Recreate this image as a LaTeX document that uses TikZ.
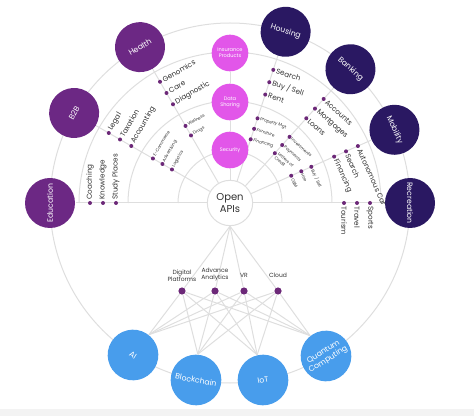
\documentclass[tikz,border=0pt]{standalone}
\usepackage{fontspec}
\setmainfont{Poppins}

\definecolor{lgray}{RGB}{222,222,222}
\definecolor{band}{RGB}{243,243,243}
\definecolor{lpurp}{RGB}{108,40,132}
\definecolor{dpurp}{RGB}{42,24,98}
\definecolor{pinkb}{RGB}{226,86,233}
\definecolor{bblue}{RGB}{72,157,236}
\definecolor{dotc}{RGB}{108,40,120}
\definecolor{txt}{RGB}{50,50,50}

\tikzset{every picture/.style={line width=0.75pt}}
\tikzset{
  ring/.style={color=lgray, line width=0.75pt},
  bubble/.style={circle, minimum size=37.5pt, inner sep=0pt, text=white, align=center, font=\fontsize{5.8}{6.6}\selectfont},
  pbubble/.style={circle, fill=pinkb, minimum size=27.5pt, inner sep=0pt, text=white, align=center, font=\fontsize{3.8}{4.6}\selectfont},
  hub/.style={circle, draw=lgray, fill=white, minimum size=34pt, inner sep=0pt, align=center, text=txt, font=\fontsize{7.5}{9}\selectfont},
  pdot/.style={circle, fill=dotc, minimum size=3pt, inner sep=0pt},
  bdot/.style={circle, fill=dotc, minimum size=5.4pt, inner sep=0pt},
  lbl/.style={anchor=west, inner sep=2.2pt, text=txt, font=\fontsize{5.4}{6}\selectfont},
  slbl/.style={anchor=west, inner sep=1.8pt, text=txt, align=left, font=\fontsize{3.2}{3.8}\selectfont},
  blbl/.style={align=center, inner sep=0pt, text=txt, font=\fontsize{4.5}{5.3}\selectfont}
}

\begin{document}
\begin{tikzpicture}[x=0.75pt,y=0.75pt,yscale=-1,xscale=1]
\path [use as bounding box] (0,0) rectangle (474,416);

%Shape: Rectangle [bottom band]
\fill [color=band] (0,409) rectangle (474,416);

\begin{scope}[shift={(230,203)},yscale=-1]
%Shape: Circle [outer ring]
\draw [ring] (0,0) circle [radius=180];
%Shape: Arcs [upper rings]
\foreach \r in {52,102,151}
  \draw [ring] (\r,0) arc [start angle=0, end angle=180, radius=\r];

% Hub
\node [hub] (open) at (0,0) {Open\\APIs};

% Sector bubbles
\foreach \n/\a/\t/\col in {edu/180/Education/lpurp, b2b/150/B2B/lpurp, hea/120/Health/lpurp,
    hou/72/Housing/dpurp, ban/48/Banking/dpurp, mob/24/Mobility/dpurp, rec/0/Recreation/dpurp}
  \node [bubble, fill=\col, rotate=\a-90] (\n) at (\a:180) {\t};

% Spokes
\foreach \n in {edu,b2b,hea,hou,ban,mob,rec}
  \draw [ring] (open) -- (\n);

% Centre column
\node [pbubble] (sec) at (90:53) {Security};
\node [pbubble] (dat) at (90:101) {Data\\Sharing};
\node [pbubble] (ins) at (90:150) {Insurance\\Products};
\draw [ring] (open) -- (sec) -- (dat) -- (ins);

% Outer items
\foreach \a/\r/\t [count=\i] in {
    180/140/Coaching, 180/127/Knowledge, 180/114/Study Places,
    150/140/Legal, 150/127/Taxation, 150/114/Accounting,
    120/140/Genomics, 120/127/Care, 120/114/Diagnostic,
    72/140/Search, 72/127/{Buy / Sell}, 72/114/Rent,
    48/140/Accounts, 48/127/Mortgages, 48/114/Loans,
    24/140/Autonomous Car, 24/127/Search, 24/114/Financing,
    0/140/Sports, 0/127/Travel, 0/114/Tourism}{
  \node [pdot] (o\i) at (\a:\r) {};
  \node [lbl, rotate=\a-90] (ol\i) at (o\i.center) {\t};
}

% Inner items
\foreach \a/\r/\t [count=\i] in {
    150/89/E-Commerce, 150/78/Advertising, 150/67/Logistics,
    120/89/Wellness, 120/78/Drugs,
    72/89/Property Mgt, 72/78/Furniture, 72/67/Financing,
    48/89/Investments, 48/78/Payments, 48/67/{Letters of\\Credit},
    24/89/{Buy / Sell}, 24/78/Hire, 24/67/O\&M}{
  \node [pdot] (i\i) at (\a:\r) {};
  \node [slbl, rotate=\a-90] (il\i) at (i\i.center) {\t};
}
\end{scope}

% Technology dots
\node [bdot] (dp) at (182,291) {};
\node [bdot] (aa) at (215,291) {};
\node [bdot] (vr) at (244,291) {};
\node [bdot] (cl) at (278,291) {};

% Technology bubbles
\node [bubble, fill=bblue, minimum size=38pt, rotate=-32] (ai) at (133,355) {AI};
\node [bubble, fill=bblue, minimum size=38pt, rotate=-11] (bc) at (196,380) {Blockchain};
\node [bubble, fill=bblue, minimum size=38pt, rotate=11] (iot) at (263,380) {IoT};
\node [bubble, fill=bblue, minimum size=38pt, rotate=32] (qc) at (326,356) {Quantum\\Computing};

\foreach \d in {dp,aa,vr,cl}{
  \draw [ring] (open.south) -- (\d);
  \foreach \b/\k in {ai/84,bc/97,iot/92,qc/96}
    \draw [ring] (\d) -- (\b.\k);
}

% Text Node
\node [blbl] (dpt) at (182,276) {Digital\\Platforms};
\node [blbl] (aat) at (215,275) {Advance\\Analytics};
\node [blbl] (vrt) at (244,275) {VR};
\node [blbl] (clt) at (278,275) {Cloud};

\end{tikzpicture}
\end{document}
